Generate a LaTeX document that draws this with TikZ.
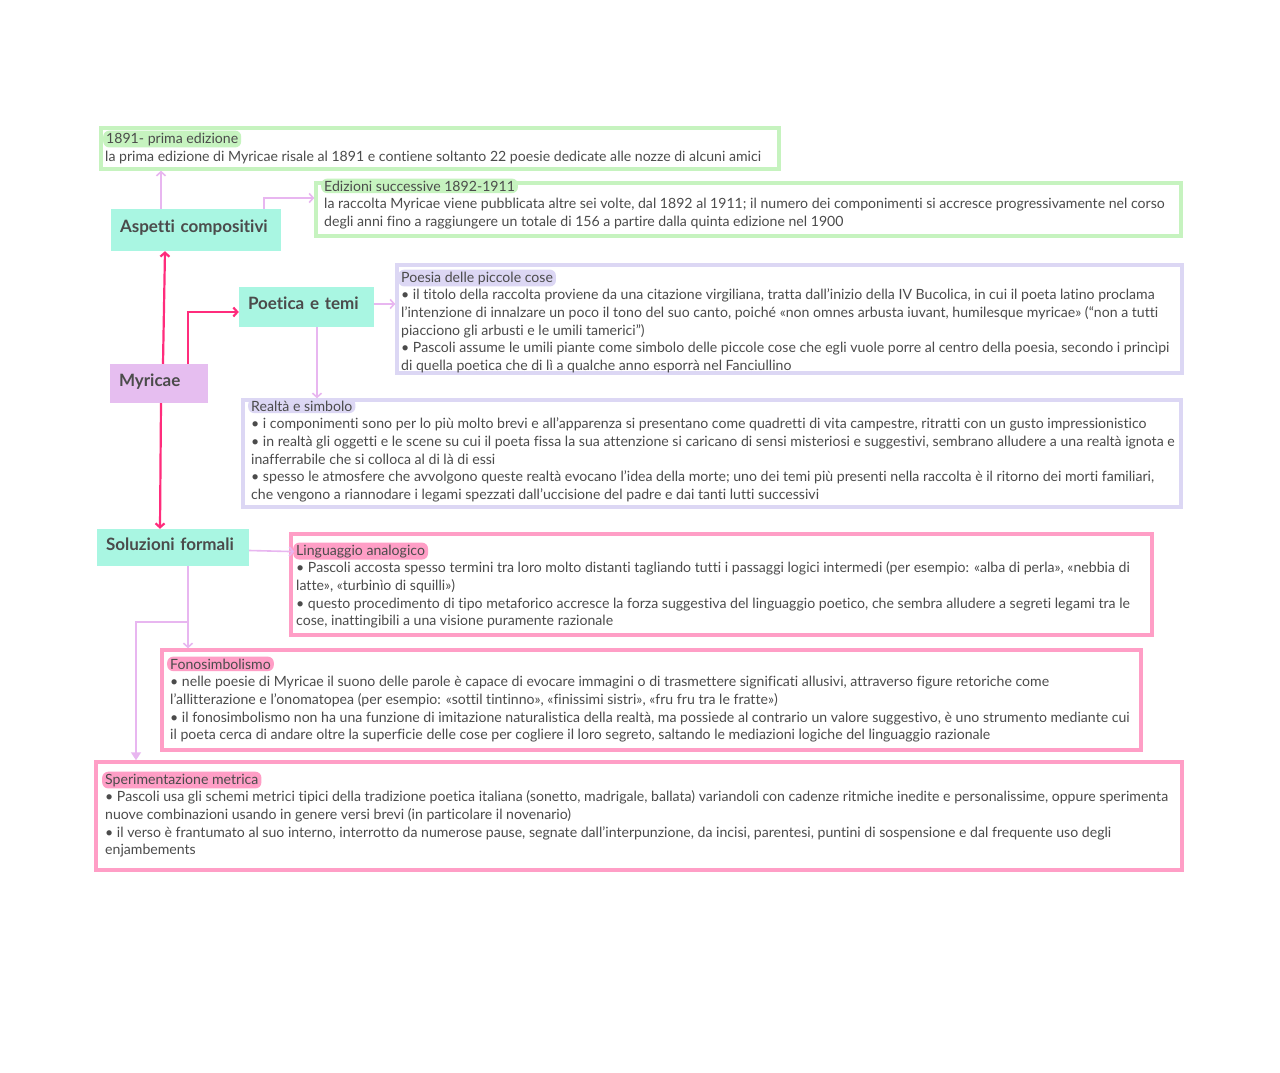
\documentclass[tikz,border=0pt]{standalone}
\usepackage{fontspec}
\setmainfont{Lato}[Ligatures=NoCommon]
\usetikzlibrary{arrows.meta}
\definecolor{txtc}{HTML}{4B4B4B}
\definecolor{teal}{HTML}{A9F6E2}
\definecolor{lilfill}{HTML}{E6BEF0}
\definecolor{grn}{HTML}{C6F3BF}
\definecolor{lav}{HTML}{DCD7F4}
\definecolor{pnk}{HTML}{FF9EC6}
\definecolor{hotpink}{HTML}{FF2C7C}
\definecolor{lilac}{HTML}{E8B6F0}
\newcommand\bodyf{\fontsize{14.1}{17.6}\selectfont}
\newcommand\keyf{\fontsize{17}{19}\selectfont\bfseries}
\tikzset{
  body/.style={anchor=north west, align=left, inner sep=0pt, font=\bodyf, text=txtc},
  ttl/.style={anchor=base west, inner xsep=3pt, inner ysep=2pt, rounded corners=6pt, font=\bodyf, text=txtc},
  frame/.style={draw=#1, line width=3.5pt, inner sep=0pt, fill=white},
  keybox/.style={fill=#1, inner xsep=9pt, inner ysep=0pt, align=left, font=\keyf, text=txtc, text height=12pt, text depth=7pt},
  lil/.style={draw=lilac, line width=1.6pt, -{Straight Barb[length=4pt,width=9pt]}},
  hot/.style={draw=hotpink, line width=2.2pt, -{Straight Barb[length=4pt,width=9pt]}}
}
\begin{document}
\begin{tikzpicture}[x=1pt,y=-1pt]
\useasboundingbox[fill=white] (0,0) rectangle (1280,1073);

% key nodes
\node[keybox=teal, text width=152pt, minimum height=42pt] (asp) at (196,230) {Aspetti compositivi};
\node[keybox=teal, text width=117pt, minimum height=40pt] (poet) at (306.5,307) {Poetica e temi};
\node[keybox=lilfill, text width=80pt, minimum height=39pt] (myr) at (159,383.5) {Myricae};
\node[keybox=teal, text width=134pt, minimum height=37pt] (sol) at (173,547.5) {Soluzioni formali};

% frames
\node[frame=grn, minimum width=678pt, minimum height=41pt] (b1891) at (440,148.5) {};
\node[frame=grn, minimum width=865pt, minimum height=53pt] (edz) at (748.5,209.5) {};
\node[frame=lav, minimum width=785pt, minimum height=108pt] (poes) at (789.5,319) {};
\node[frame=lav, minimum width=938pt, minimum height=107pt] (real) at (712,453.5) {};
\node[frame=pnk, minimum width=861pt, minimum height=101pt] (ling) at (721.5,584.5) {};
\node[frame=pnk, minimum width=979pt, minimum height=100pt] (fono) at (651.5,700) {};
\node[frame=pnk, minimum width=1086pt, minimum height=108pt] (sper) at (639,816) {};

% titles
\node[ttl, fill=grn] (t1891) at (103,143) {1891- prima edizione};
\node[ttl, fill=grn] (tedz) at (321,191) {Edizioni successive 1892-1911};
\node[ttl, fill=lav] (tpoes) at (398,282) {Poesia delle piccole cose};
\node[ttl, fill=lav] (treal) at (248,411) {Realtà e simbolo};
\node[ttl, fill=pnk] (tling) at (293,555) {Linguaggio analogico};
\node[ttl, fill=pnk] (tfono) at (167,669) {Fonosimbolismo};
\node[ttl, fill=pnk] (tsper) at (102,784) {Sperimentazione metrica};

% bodies
\node[body] (x1891) at (105,148.7) {\strut la prima edizione di Myricae risale al 1891 e contiene soltanto 22 poesie dedicate alle nozze di alcuni amici};
\node[body] (xedz) at (324,196.2) {\strut la raccolta Myricae viene pubblicata altre sei volte, dal 1892 al 1911; il numero dei componimenti si accresce progressivamente nel corso\\
degli anni fino a raggiungere un totale di 156 a partire dalla quinta edizione nel 1900};
\node[body] (xpoes) at (401,287.3) {\strut • il titolo della raccolta proviene da una citazione virgiliana, tratta dall’inizio della IV Bucolica, in cui il poeta latino proclama\\
l’intenzione di innalzare un poco il tono del suo canto, poiché «non omnes arbusta iuvant, humilesque myricae» (“non a tutti\\
piacciono gli arbusti e le umili tamerici”)\\
• Pascoli assume le umili piante come simbolo delle piccole cose che egli vuole porre al centro della poesia, secondo i princìpi\\
di quella poetica che di lì a qualche anno esporrà nel Fanciullino};
\node[body] (xreal) at (251,416.3) {\strut • i componimenti sono per lo più molto brevi e all’apparenza si presentano come quadretti di vita campestre, ritratti con un gusto impressionistico\\
• in realtà gli oggetti e le scene su cui il poeta fissa la sua attenzione si caricano di sensi misteriosi e suggestivi, sembrano alludere a una realtà ignota e\\
inafferrabile che si colloca al di là di essi\\
• spesso le atmosfere che avvolgono queste realtà evocano l’idea della morte; uno dei temi più presenti nella raccolta è il ritorno dei morti familiari,\\
che vengono a riannodare i legami spezzati dall’uccisione del padre e dai tanti lutti successivi};
\node[body] (xling) at (296,560.3) {\strut • Pascoli accosta spesso termini tra loro molto distanti tagliando tutti i passaggi logici intermedi (per esempio: «alba di perla», «nebbia di\\
latte», «turbinìo di squilli»)\\
• questo procedimento di tipo metaforico accresce la forza suggestiva del linguaggio poetico, che sembra alludere a segreti legami tra le\\
cose, inattingibili a una visione puramente razionale};
\node[body] (xfono) at (170,674.3) {\strut • nelle poesie di Myricae il suono delle parole è capace di evocare immagini o di trasmettere significati allusivi, attraverso figure retoriche come\\
l’allitterazione e l’onomatopea (per esempio: «sottil tintinno», «finissimi sistri», «fru fru tra le fratte»)\\
• il fonosimbolismo non ha una funzione di imitazione naturalistica della realtà, ma possiede al contrario un valore suggestivo, è uno strumento mediante cui\\
il poeta cerca di andare oltre la superficie delle cose per cogliere il loro segreto, saltando le mediazioni logiche del linguaggio razionale};
\node[body] (xsper) at (105,789.3) {\strut • Pascoli usa gli schemi metrici tipici della tradizione poetica italiana (sonetto, madrigale, ballata) variandoli con cadenze ritmiche inedite e personalissime, oppure sperimenta\\
nuove combinazioni usando in genere versi brevi (in particolare il novenario)\\
• il verso è frantumato al suo interno, interrotto da numerose pause, segnate dall’interpunzione, da incisi, parentesi, puntini di sospensione e dal frequente uso degli\\
enjambements};

% connectors
\draw[lil] ([xshift=-35pt]asp.north) -- ([xshift=-35pt]asp.north |- b1891.south);
\draw[lil] ([xshift=68pt]asp.north) |- ([yshift=11.5pt]edz.west);
\draw[hot] ([xshift=4pt]myr.north) -- ([xshift=-31pt]asp.south);
\draw[hot] ([xshift=29pt]myr.north) |- ([yshift=-5pt]poet.west);
\draw[hot] ([xshift=2pt]myr.south) -- ([xshift=-13pt]sol.north);
\draw[lil] ([yshift=3pt]poet.east) -- ([yshift=3pt]poet.east -| poes.west);
\draw[lil] ([xshift=10.5pt]poet.south) -- ([xshift=10.5pt]poet.south |- real.north);
\draw[lil, shorten >=-5pt] ([yshift=-3pt]sol.east) -- ([yshift=-4pt]sol.east -| ling.west);
\draw[lil] ([xshift=15pt]sol.south) -- ([xshift=15pt]sol.south |- fono.north);
\coordinate (j) at ([xshift=15pt,yshift=-56pt]sol.south);
\draw[draw=lilac, line width=1.6pt, -{Triangle[length=8pt,width=10pt]}] (j) -| ([xshift=-37pt]sol.south |- sper.north);
\end{tikzpicture}
\end{document}
